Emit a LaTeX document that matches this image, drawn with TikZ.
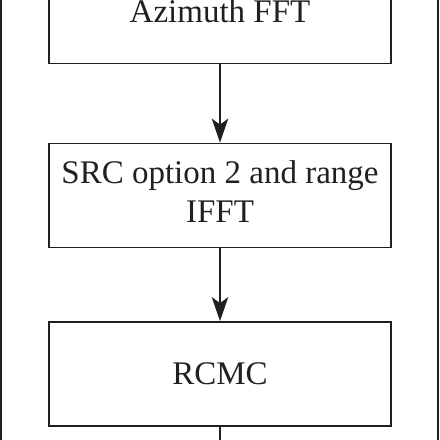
\documentclass[tikz,border=0pt]{standalone}
\usepackage{fontspec}
\setmainfont{Liberation Serif}
\usetikzlibrary{arrows.meta}
\definecolor{ink}{HTML}{231F20}
\begin{document}
\begin{tikzpicture}[x=1pt,y=-1pt,
  stepbox/.style={draw=ink,line width=1.8pt,minimum width=342pt,minimum height=104pt,inner sep=0pt,text=ink,font=\fontsize{33}{39}\selectfont},
  flow/.style={draw=ink,line width=2pt,-{Stealth[length=24pt,width=16.5pt,inset=6pt]}},
  frame/.style={draw=ink,line width=2pt}]
\useasboundingbox (0,0) rectangle (440,440);
\coordinate (lt) at (1,0);
\coordinate (lb) at (1,440);
\coordinate (rt) at (438,0);
\coordinate (rb) at (438,440);
\draw[frame] (lt) -- (lb);
\draw[frame] (rt) -- (rb);
\node[stepbox] (b1) at (220,11.5) {Azimuth FFT};
\node[stepbox] (b2) at (220,195.5) {\begin{tabular}{@{}c@{}}SRC option 2 and range\\IFFT\end{tabular}};
\node[stepbox] (b3) at (220,374) {RCMC};
\coordinate (end) at (220,441);
\draw[flow] (b1.south) -- (b2.north);
\draw[flow] (b2.south) -- (b3.north);
\draw[draw=ink,line width=2pt] (b3.south) -- (end);
\end{tikzpicture}
\end{document}
